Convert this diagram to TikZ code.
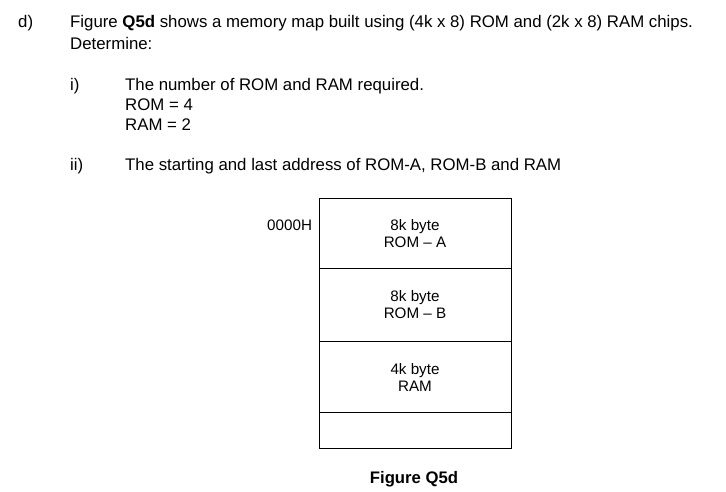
\documentclass[tikz,border=0pt]{standalone}
\usepackage{fontspec}
\setmainfont{Liberation Sans}
\begin{document}
\begin{tikzpicture}[x=1pt,y=-1pt,
  txt/.style={anchor=west,inner sep=0pt,font=\fontsize{16.8}{19}\selectfont},
  btxt/.style={inner sep=0pt,font=\fontsize{15.2}{17}\selectfont,align=center},
  box/.style={draw,line width=0.8pt}]
\useasboundingbox (0,0) rectangle (726,491);
\node[txt] (d) at (18,23) {d)};
\node[txt] (l1) at (70,23) {Figure \textbf{Q5d} shows a memory map built using (4k x 8) ROM and (2k x 8) RAM chips.};
\node[txt] (l2) at (70,43) {Determine:};
\node[txt] (i) at (70,86) {i)};
\node[txt] (l3) at (125,86) {The number of ROM and RAM required.};
\node[txt] (l4) at (125,105) {ROM = 4};
\node[txt] (l5) at (125,125) {RAM = 2};
\node[txt] (ii) at (70,166) {ii)};
\node[txt] (l6) at (125,166) {The starting and last address of ROM-A, ROM-B and RAM};
\draw[box] (319,198) rectangle (511,448);
\draw[box] (319,268) -- (511,268);
\draw[box] (319,341) -- (511,341);
\draw[box] (319,412) -- (511,412);
\node[btxt,anchor=west] (h) at (267,225) {0000H};
\node[btxt] (a) at (415,234) {8k byte\\ROM -- A};
\node[btxt] (b) at (415,305) {8k byte\\ROM -- B};
\node[btxt] (c) at (415,377) {4k byte\\RAM};
\node[btxt,font=\fontsize{16.7}{19}\selectfont\bfseries] (f) at (414,479) {Figure Q5d};
\end{tikzpicture}
\end{document}
